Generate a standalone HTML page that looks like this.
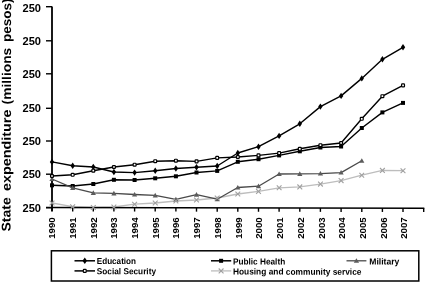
<!DOCTYPE html><html><head><meta charset="utf-8"><title>State expenditure</title><style>html,body{margin:0;padding:0;background:#fff}svg{display:block}text{font-family:"Liberation Sans",sans-serif;fill:#000}</style></head><body>
<svg width="425" height="283" viewBox="0 0 425 283">
<rect width="425" height="283" fill="#fff"/>
<polyline points="52.0,203.0 72.7,206.7 93.3,207.5 113.9,207.0 134.6,204.2 155.2,203.0 175.9,201.0 196.5,200.0 217.2,198.0 237.8,194.0 258.5,191.4 279.1,187.8 299.8,186.9 320.4,184.1 341.1,180.6 361.8,175.2 382.4,170.4 403.0,170.7" fill="none" stroke="#bdbdbd" stroke-width="1.3" stroke-linejoin="round"/>
<path d="M52.0 6.6V211.3" stroke="#000" stroke-width="1.8" fill="none"/>
<path d="M46 207.55L424.3 208.2" stroke="#000" stroke-width="1.6" fill="none"/>
<path d="M46 6.7H52.0" stroke="#000" stroke-width="1.4"/>
<text x="22.5" y="11.9" font-size="10" font-weight="bold" textLength="18.5" lengthAdjust="spacingAndGlyphs">250</text>
<path d="M46 40.8H52.0" stroke="#000" stroke-width="1.4"/>
<text x="22.5" y="44.9" font-size="10" font-weight="bold" textLength="18.5" lengthAdjust="spacingAndGlyphs">250</text>
<path d="M46 73.8H52.0" stroke="#000" stroke-width="1.4"/>
<text x="22.5" y="78.2" font-size="10" font-weight="bold" textLength="18.5" lengthAdjust="spacingAndGlyphs">250</text>
<path d="M46 108.3H52.0" stroke="#000" stroke-width="1.4"/>
<text x="22.5" y="112.1" font-size="10" font-weight="bold" textLength="18.5" lengthAdjust="spacingAndGlyphs">250</text>
<path d="M46 141.0H52.0" stroke="#000" stroke-width="1.4"/>
<text x="22.5" y="145.1" font-size="10" font-weight="bold" textLength="18.5" lengthAdjust="spacingAndGlyphs">250</text>
<path d="M46 174.2H52.0" stroke="#000" stroke-width="1.4"/>
<text x="22.5" y="178.2" font-size="10" font-weight="bold" textLength="18.5" lengthAdjust="spacingAndGlyphs">250</text>
<path d="M46 207.7H52.0" stroke="#000" stroke-width="1.4"/>
<text x="22.5" y="212.2" font-size="10" font-weight="bold" textLength="18.5" lengthAdjust="spacingAndGlyphs">250</text>
<path d="M52.0 207.60V211.40" stroke="#000" stroke-width="1.4"/>
<text transform="translate(55.0 238.8) rotate(-90)" font-size="9.8" font-weight="bold" textLength="21.5" lengthAdjust="spacingAndGlyphs">1990</text>
<path d="M72.7 207.63V211.44" stroke="#000" stroke-width="1.4"/>
<text transform="translate(75.7 238.8) rotate(-90)" font-size="9.8" font-weight="bold" textLength="21.5" lengthAdjust="spacingAndGlyphs">1991</text>
<path d="M93.3 207.67V211.47" stroke="#000" stroke-width="1.4"/>
<text transform="translate(96.5 238.8) rotate(-90)" font-size="9.8" font-weight="bold" textLength="21.5" lengthAdjust="spacingAndGlyphs">1992</text>
<path d="M113.9 207.70V211.50" stroke="#000" stroke-width="1.4"/>
<text transform="translate(117.2 238.8) rotate(-90)" font-size="9.8" font-weight="bold" textLength="21.5" lengthAdjust="spacingAndGlyphs">1993</text>
<path d="M134.6 207.74V211.54" stroke="#000" stroke-width="1.4"/>
<text transform="translate(137.9 238.8) rotate(-90)" font-size="9.8" font-weight="bold" textLength="21.5" lengthAdjust="spacingAndGlyphs">1994</text>
<path d="M155.2 207.78V211.58" stroke="#000" stroke-width="1.4"/>
<text transform="translate(158.7 238.8) rotate(-90)" font-size="9.8" font-weight="bold" textLength="21.5" lengthAdjust="spacingAndGlyphs">1995</text>
<path d="M175.9 207.81V211.61" stroke="#000" stroke-width="1.4"/>
<text transform="translate(179.4 238.8) rotate(-90)" font-size="9.8" font-weight="bold" textLength="21.5" lengthAdjust="spacingAndGlyphs">1996</text>
<path d="M196.5 207.84V211.65" stroke="#000" stroke-width="1.4"/>
<text transform="translate(200.1 238.8) rotate(-90)" font-size="9.8" font-weight="bold" textLength="21.5" lengthAdjust="spacingAndGlyphs">1997</text>
<path d="M217.2 207.88V211.68" stroke="#000" stroke-width="1.4"/>
<text transform="translate(220.8 238.8) rotate(-90)" font-size="9.8" font-weight="bold" textLength="21.5" lengthAdjust="spacingAndGlyphs">1998</text>
<path d="M237.8 207.91V211.72" stroke="#000" stroke-width="1.4"/>
<text transform="translate(241.6 238.8) rotate(-90)" font-size="9.8" font-weight="bold" textLength="21.5" lengthAdjust="spacingAndGlyphs">1999</text>
<path d="M258.5 207.95V211.75" stroke="#000" stroke-width="1.4"/>
<text transform="translate(262.3 238.8) rotate(-90)" font-size="9.8" font-weight="bold" textLength="21.5" lengthAdjust="spacingAndGlyphs">2000</text>
<path d="M279.1 207.98V211.78" stroke="#000" stroke-width="1.4"/>
<text transform="translate(283.0 238.8) rotate(-90)" font-size="9.8" font-weight="bold" textLength="21.5" lengthAdjust="spacingAndGlyphs">2001</text>
<path d="M299.8 208.02V211.82" stroke="#000" stroke-width="1.4"/>
<text transform="translate(303.8 238.8) rotate(-90)" font-size="9.8" font-weight="bold" textLength="21.5" lengthAdjust="spacingAndGlyphs">2002</text>
<path d="M320.4 208.06V211.86" stroke="#000" stroke-width="1.4"/>
<text transform="translate(324.5 238.8) rotate(-90)" font-size="9.8" font-weight="bold" textLength="21.5" lengthAdjust="spacingAndGlyphs">2003</text>
<path d="M341.1 208.09V211.89" stroke="#000" stroke-width="1.4"/>
<text transform="translate(345.2 238.8) rotate(-90)" font-size="9.8" font-weight="bold" textLength="21.5" lengthAdjust="spacingAndGlyphs">2004</text>
<path d="M361.8 208.12V211.93" stroke="#000" stroke-width="1.4"/>
<text transform="translate(365.9 238.8) rotate(-90)" font-size="9.8" font-weight="bold" textLength="21.5" lengthAdjust="spacingAndGlyphs">2005</text>
<path d="M382.4 208.16V211.96" stroke="#000" stroke-width="1.4"/>
<text transform="translate(386.7 238.8) rotate(-90)" font-size="9.8" font-weight="bold" textLength="21.5" lengthAdjust="spacingAndGlyphs">2006</text>
<path d="M403.0 208.19V212.00" stroke="#000" stroke-width="1.4"/>
<text transform="translate(407.4 238.8) rotate(-90)" font-size="9.8" font-weight="bold" textLength="21.5" lengthAdjust="spacingAndGlyphs">2007</text>
<path d="M423.7 208.23V212.03" stroke="#000" stroke-width="1.4"/>
<polyline points="52.0,161.9 72.7,165.8 93.3,167.0 113.9,172.0 134.6,172.6 155.2,170.7 175.9,168.5 196.5,167.2 217.2,166.0 237.8,153.0 258.5,146.7 279.1,135.9 299.8,123.8 320.4,106.6 341.1,95.9 361.8,78.4 382.4,59.3 403.0,47.3" fill="none" stroke="#000" stroke-width="1.4" stroke-linejoin="round"/>
<path d="M52.0 158.7L54.2 161.9L52.0 165.1L49.8 161.9Z" fill="#000"/>
<path d="M72.7 162.6L74.9 165.8L72.7 169.0L70.5 165.8Z" fill="#000"/>
<path d="M93.3 163.8L95.5 167.0L93.3 170.2L91.1 167.0Z" fill="#000"/>
<path d="M113.9 168.8L116.1 172.0L113.9 175.2L111.7 172.0Z" fill="#000"/>
<path d="M134.6 169.4L136.8 172.6L134.6 175.8L132.4 172.6Z" fill="#000"/>
<path d="M155.2 167.5L157.4 170.7L155.2 173.9L153.1 170.7Z" fill="#000"/>
<path d="M175.9 165.3L178.1 168.5L175.9 171.7L173.7 168.5Z" fill="#000"/>
<path d="M196.5 164.0L198.7 167.2L196.5 170.4L194.3 167.2Z" fill="#000"/>
<path d="M217.2 162.8L219.4 166.0L217.2 169.2L215.0 166.0Z" fill="#000"/>
<path d="M237.8 149.8L240.0 153.0L237.8 156.2L235.7 153.0Z" fill="#000"/>
<path d="M258.5 143.5L260.7 146.7L258.5 149.9L256.3 146.7Z" fill="#000"/>
<path d="M279.1 132.7L281.3 135.9L279.1 139.1L276.9 135.9Z" fill="#000"/>
<path d="M299.8 120.6L302.0 123.8L299.8 127.0L297.6 123.8Z" fill="#000"/>
<path d="M320.4 103.4L322.6 106.6L320.4 109.8L318.2 106.6Z" fill="#000"/>
<path d="M341.1 92.7L343.3 95.9L341.1 99.1L338.9 95.9Z" fill="#000"/>
<path d="M361.8 75.2L363.9 78.4L361.8 81.6L359.6 78.4Z" fill="#000"/>
<path d="M382.4 56.1L384.6 59.3L382.4 62.5L380.2 59.3Z" fill="#000"/>
<path d="M403.0 44.1L405.2 47.3L403.0 50.5L400.8 47.3Z" fill="#000"/>
<polyline points="52.0,185.3 72.7,186.0 93.3,184.0 113.9,179.8 134.6,180.0 155.2,178.3 175.9,176.3 196.5,172.5 217.2,170.9 237.8,161.8 258.5,159.2 279.1,155.4 299.8,151.3 320.4,147.5 341.1,146.5 361.8,128.0 382.4,112.4 403.0,102.9" fill="none" stroke="#000" stroke-width="1.4" stroke-linejoin="round"/>
<rect x="50.0" y="183.3" width="4.0" height="4.0" fill="#000"/>
<rect x="70.7" y="184.0" width="4.0" height="4.0" fill="#000"/>
<rect x="91.3" y="182.0" width="4.0" height="4.0" fill="#000"/>
<rect x="111.9" y="177.8" width="4.0" height="4.0" fill="#000"/>
<rect x="132.6" y="178.0" width="4.0" height="4.0" fill="#000"/>
<rect x="153.2" y="176.3" width="4.0" height="4.0" fill="#000"/>
<rect x="173.9" y="174.3" width="4.0" height="4.0" fill="#000"/>
<rect x="194.5" y="170.5" width="4.0" height="4.0" fill="#000"/>
<rect x="215.2" y="168.9" width="4.0" height="4.0" fill="#000"/>
<rect x="235.8" y="159.8" width="4.0" height="4.0" fill="#000"/>
<rect x="256.5" y="157.2" width="4.0" height="4.0" fill="#000"/>
<rect x="277.1" y="153.4" width="4.0" height="4.0" fill="#000"/>
<rect x="297.8" y="149.3" width="4.0" height="4.0" fill="#000"/>
<rect x="318.4" y="145.5" width="4.0" height="4.0" fill="#000"/>
<rect x="339.1" y="144.5" width="4.0" height="4.0" fill="#000"/>
<rect x="359.8" y="126.0" width="4.0" height="4.0" fill="#000"/>
<rect x="380.4" y="110.4" width="4.0" height="4.0" fill="#000"/>
<rect x="401.0" y="100.9" width="4.0" height="4.0" fill="#000"/>
<polyline points="52.0,179.0 72.7,187.9 93.3,192.9 113.9,193.4 134.6,194.5 155.2,195.4 175.9,199.4 196.5,194.7 217.2,199.2 237.8,187.5 258.5,186.2 279.1,174.0 299.8,173.9 320.4,173.6 341.1,172.6 361.8,160.8" fill="none" stroke="#4a4a4a" stroke-width="1.3" stroke-linejoin="round"/>
<path d="M52.0 176.4L54.6 181.0L49.4 181.0Z" fill="#5c5c5c"/>
<path d="M72.7 185.3L75.2 189.9L70.1 189.9Z" fill="#5c5c5c"/>
<path d="M93.3 190.3L95.9 194.9L90.7 194.9Z" fill="#5c5c5c"/>
<path d="M113.9 190.8L116.5 195.4L111.3 195.4Z" fill="#5c5c5c"/>
<path d="M134.6 191.9L137.2 196.5L132.0 196.5Z" fill="#5c5c5c"/>
<path d="M155.2 192.8L157.8 197.4L152.7 197.4Z" fill="#5c5c5c"/>
<path d="M175.9 196.8L178.5 201.4L173.3 201.4Z" fill="#5c5c5c"/>
<path d="M196.5 192.1L199.1 196.7L193.9 196.7Z" fill="#5c5c5c"/>
<path d="M217.2 196.6L219.8 201.2L214.6 201.2Z" fill="#5c5c5c"/>
<path d="M237.8 184.9L240.4 189.5L235.2 189.5Z" fill="#5c5c5c"/>
<path d="M258.5 183.6L261.1 188.2L255.9 188.2Z" fill="#5c5c5c"/>
<path d="M279.1 171.4L281.8 176.0L276.5 176.0Z" fill="#5c5c5c"/>
<path d="M299.8 171.3L302.4 175.9L297.2 175.9Z" fill="#5c5c5c"/>
<path d="M320.4 171.0L323.1 175.6L317.8 175.6Z" fill="#5c5c5c"/>
<path d="M341.1 170.0L343.7 174.6L338.5 174.6Z" fill="#5c5c5c"/>
<path d="M361.8 158.2L364.4 162.8L359.1 162.8Z" fill="#5c5c5c"/>
<polyline points="52.0,176.0 72.7,174.8 93.3,170.7 113.9,167.0 134.6,164.7 155.2,161.2 175.9,160.7 196.5,161.4 217.2,157.9 237.8,157.0 258.5,155.4 279.1,153.1 299.8,148.8 320.4,145.2 341.1,143.0 361.8,118.8 382.4,96.2 403.0,85.4" fill="none" stroke="#000" stroke-width="1.4" stroke-linejoin="round"/>
<rect x="50.55" y="174.55" width="2.9" height="2.9" rx="0.7" fill="#fff" stroke="#000" stroke-width="1.2"/>
<rect x="71.20" y="173.35" width="2.9" height="2.9" rx="0.7" fill="#fff" stroke="#000" stroke-width="1.2"/>
<rect x="91.85" y="169.25" width="2.9" height="2.9" rx="0.7" fill="#fff" stroke="#000" stroke-width="1.2"/>
<rect x="112.50" y="165.55" width="2.9" height="2.9" rx="0.7" fill="#fff" stroke="#000" stroke-width="1.2"/>
<rect x="133.15" y="163.25" width="2.9" height="2.9" rx="0.7" fill="#fff" stroke="#000" stroke-width="1.2"/>
<rect x="153.80" y="159.75" width="2.9" height="2.9" rx="0.7" fill="#fff" stroke="#000" stroke-width="1.2"/>
<rect x="174.45" y="159.25" width="2.9" height="2.9" rx="0.7" fill="#fff" stroke="#000" stroke-width="1.2"/>
<rect x="195.10" y="159.95" width="2.9" height="2.9" rx="0.7" fill="#fff" stroke="#000" stroke-width="1.2"/>
<rect x="215.75" y="156.45" width="2.9" height="2.9" rx="0.7" fill="#fff" stroke="#000" stroke-width="1.2"/>
<rect x="236.40" y="155.55" width="2.9" height="2.9" rx="0.7" fill="#fff" stroke="#000" stroke-width="1.2"/>
<rect x="257.05" y="153.95" width="2.9" height="2.9" rx="0.7" fill="#fff" stroke="#000" stroke-width="1.2"/>
<rect x="277.70" y="151.65" width="2.9" height="2.9" rx="0.7" fill="#fff" stroke="#000" stroke-width="1.2"/>
<rect x="298.35" y="147.35" width="2.9" height="2.9" rx="0.7" fill="#fff" stroke="#000" stroke-width="1.2"/>
<rect x="319.00" y="143.75" width="2.9" height="2.9" rx="0.7" fill="#fff" stroke="#000" stroke-width="1.2"/>
<rect x="339.65" y="141.55" width="2.9" height="2.9" rx="0.7" fill="#fff" stroke="#000" stroke-width="1.2"/>
<rect x="360.30" y="117.35" width="2.9" height="2.9" rx="0.7" fill="#fff" stroke="#000" stroke-width="1.2"/>
<rect x="380.95" y="94.75" width="2.9" height="2.9" rx="0.7" fill="#fff" stroke="#000" stroke-width="1.2"/>
<rect x="401.60" y="83.95" width="2.9" height="2.9" rx="0.7" fill="#fff" stroke="#000" stroke-width="1.2"/>
<path d="M49.6 200.6L54.4 205.4M49.6 205.4L54.4 200.6" stroke="#a0a0a0" stroke-width="1.1" fill="none"/>
<path d="M70.2 204.3L75.1 209.1M70.2 209.1L75.1 204.3" stroke="#a0a0a0" stroke-width="1.1" fill="none"/>
<path d="M90.9 205.1L95.7 209.9M90.9 209.9L95.7 205.1" stroke="#a0a0a0" stroke-width="1.1" fill="none"/>
<path d="M111.5 204.6L116.3 209.4M111.5 209.4L116.3 204.6" stroke="#a0a0a0" stroke-width="1.1" fill="none"/>
<path d="M132.2 201.8L137.0 206.6M132.2 206.6L137.0 201.8" stroke="#a0a0a0" stroke-width="1.1" fill="none"/>
<path d="M152.8 200.6L157.7 205.4M152.8 205.4L157.7 200.6" stroke="#a0a0a0" stroke-width="1.1" fill="none"/>
<path d="M173.5 198.6L178.3 203.4M173.5 203.4L178.3 198.6" stroke="#a0a0a0" stroke-width="1.1" fill="none"/>
<path d="M194.1 197.6L198.9 202.4M194.1 202.4L198.9 197.6" stroke="#a0a0a0" stroke-width="1.1" fill="none"/>
<path d="M214.8 195.6L219.6 200.4M214.8 200.4L219.6 195.6" stroke="#a0a0a0" stroke-width="1.1" fill="none"/>
<path d="M235.4 191.6L240.2 196.4M235.4 196.4L240.2 191.6" stroke="#a0a0a0" stroke-width="1.1" fill="none"/>
<path d="M256.1 189.0L260.9 193.8M256.1 193.8L260.9 189.0" stroke="#a0a0a0" stroke-width="1.1" fill="none"/>
<path d="M276.8 185.4L281.5 190.2M276.8 190.2L281.5 185.4" stroke="#a0a0a0" stroke-width="1.1" fill="none"/>
<path d="M297.4 184.5L302.2 189.3M297.4 189.3L302.2 184.5" stroke="#a0a0a0" stroke-width="1.1" fill="none"/>
<path d="M318.1 181.7L322.8 186.5M318.1 186.5L322.8 181.7" stroke="#a0a0a0" stroke-width="1.1" fill="none"/>
<path d="M338.7 178.2L343.5 183.0M338.7 183.0L343.5 178.2" stroke="#a0a0a0" stroke-width="1.1" fill="none"/>
<path d="M359.4 172.8L364.1 177.6M359.4 177.6L364.1 172.8" stroke="#a0a0a0" stroke-width="1.1" fill="none"/>
<path d="M380.0 168.0L384.8 172.8M380.0 172.8L384.8 168.0" stroke="#a0a0a0" stroke-width="1.1" fill="none"/>
<path d="M400.6 168.3L405.4 173.1M400.6 173.1L405.4 168.3" stroke="#a0a0a0" stroke-width="1.1" fill="none"/>
<text transform="translate(10.45 231.5) rotate(-89.85)" font-size="12.7" font-weight="bold" textLength="34.3" lengthAdjust="spacingAndGlyphs">State</text>
<text transform="translate(10.7 191.1) rotate(-89.85)" font-size="12.7" font-weight="bold" textLength="81.5" lengthAdjust="spacingAndGlyphs">expenditure</text>
<text transform="translate(10.95 104.4) rotate(-89.85)" font-size="12.7" font-weight="bold" textLength="56.6" lengthAdjust="spacingAndGlyphs">(millions</text>
<text transform="translate(11.05 41.9) rotate(-89.85)" font-size="12.7" font-weight="bold" textLength="43.5" lengthAdjust="spacingAndGlyphs">pesos)</text>
<rect x="51.4" y="250.8" width="367.4" height="30.2" fill="#fff" stroke="#000" stroke-width="1.5"/>
<path d="M74.5 260.8H95" stroke="#000" stroke-width="1.5"/>
<path d="M84.8 257.6L87.0 260.8L84.8 264.0L82.5 260.8Z" fill="#000"/>
<text transform="translate(96.8 263.9) rotate(0.03)" font-size="8.8" font-weight="bold" textLength="39.2" lengthAdjust="spacingAndGlyphs">Education</text>
<path d="M74.5 270.9H95" stroke="#000" stroke-width="1.5"/>
<rect x="83.30" y="269.45" width="2.9" height="2.9" rx="0.7" fill="#fff" stroke="#000" stroke-width="1.2"/>
<text transform="translate(96.8 274.2) rotate(0.03)" font-size="8.8" font-weight="bold" textLength="59.2" lengthAdjust="spacingAndGlyphs">Social Security</text>
<path d="M211 260.8H231.2" stroke="#000" stroke-width="1.5"/>
<rect x="219.1" y="258.8" width="4.0" height="4.0" fill="#000"/>
<text transform="translate(232.9 264.5) rotate(0.03)" font-size="8.8" font-weight="bold" textLength="52.3" lengthAdjust="spacingAndGlyphs">Public Health</text>
<path d="M211 270.9H231.2" stroke="#bdbdbd" stroke-width="1.3"/>
<path d="M218.7 268.5L223.5 273.3M218.7 273.3L223.5 268.5" stroke="#a0a0a0" stroke-width="1.1" fill="none"/>
<text transform="translate(232.9 274.6) rotate(0.03)" font-size="8.8" font-weight="bold" textLength="128.6" lengthAdjust="spacingAndGlyphs">Housing and community service</text>
<path d="M346.5 260.8H366.4" stroke="#4a4a4a" stroke-width="1.3"/>
<path d="M356.4 258.2L359.1 262.8L353.8 262.8Z" fill="#5c5c5c"/>
<text transform="translate(369.2 264.5) rotate(0.03)" font-size="8.8" font-weight="bold" textLength="30.2" lengthAdjust="spacingAndGlyphs">Military</text>
</svg></body></html>
